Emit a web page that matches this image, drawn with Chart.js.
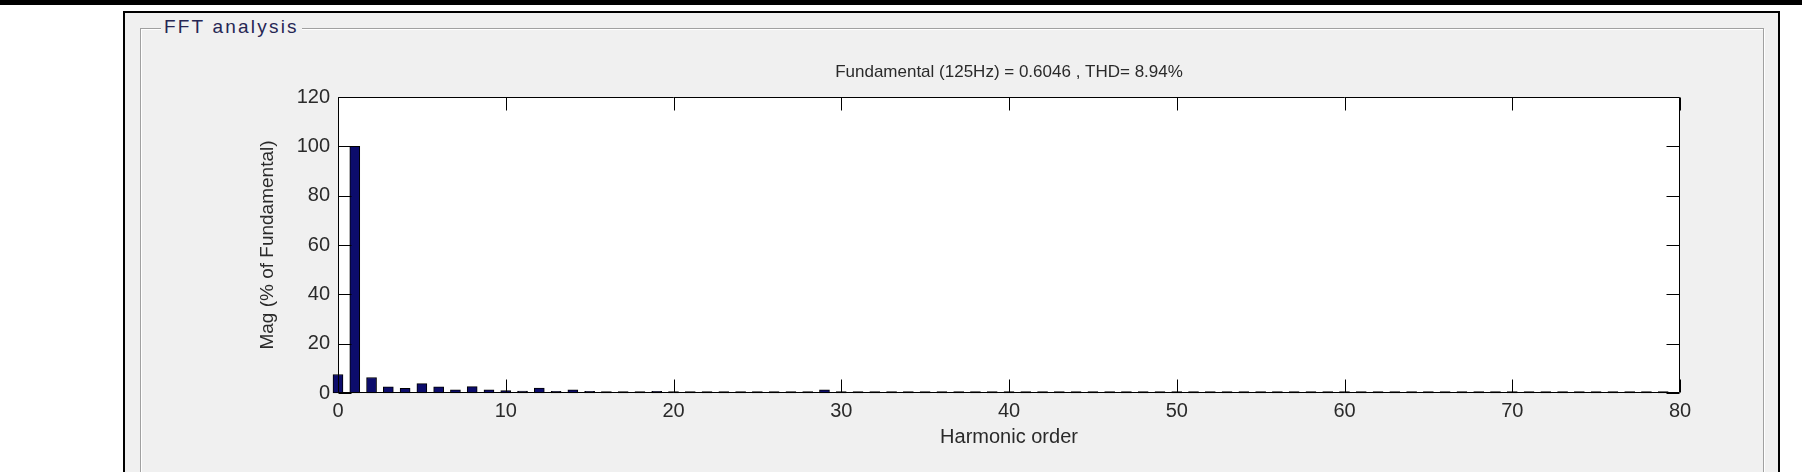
<!DOCTYPE html>
<html>
<head>
<meta charset="utf-8">
<title>FFT analysis</title>
<script src="https://cdn.jsdelivr.net/npm/chart.js@4.4.1/dist/chart.umd.min.js"></script>
<style>
  html, body { margin: 0; padding: 0; background: #fff; }
  body { width: 1802px; height: 472px; position: relative; overflow: hidden; font-family: 'Liberation Sans', Arial, sans-serif; }
  .band { position: absolute; left: 0; top: 0; width: 1802px; height: 5px; background: #000; }
  .frame { position: absolute; left: 123px; top: 11px; width: 1653px; height: 500px; border: 2px solid #000; background: #f0f0f0; }
  .group { position: absolute; left: 140px; top: 28px; width: 1622px; height: 500px; border: 1px solid #a0a0a0; box-shadow: inset 1px 1px 0 #fff, 1px 1px 0 #fff; }
  .legend { position: absolute; left: 161px; top: 16px; padding: 0 3px; background: #f0f0f0; color: #262654; font-size: 19px; line-height: 22px; letter-spacing: 2.2px; }
  canvas { position: absolute; left: 0; top: 0; }
</style>
</head>
<body>
<div class="band"></div>
<div class="frame"></div>
<div class="group"></div>
<div class="legend">FFT analysis</div>
<canvas id="fftChart" width="1802" height="472"></canvas>

<script>
'use strict';

// harmonic magnitudes, % of fundamental, for orders 0..79
const harmonicMag = [
  7.5, 100, 6.3, 2.5, 1.9, 3.8, 2.5, 1.3, 2.6, 1.3,
  1.0, 0.8, 2.0, 0.7, 1.3, 0.7, 0.6, 0.6, 0.6, 0.7,
  0.6, 0.6, 0.6, 0.6, 0.6, 0.6, 0.6, 0.6, 0.6, 1.3,
  0.6, 0.6, 0.6, 0.6, 0.6, 0.6, 0.6, 0.6, 0.6, 0.6,
  0.6, 0.6, 0.6, 0.6, 0.6, 0.6, 0.6, 0.6, 0.6, 0.6,
  0.6, 0.6, 0.6, 0.6, 0.6, 0.6, 0.6, 0.6, 0.6, 0.6,
  0.6, 0.6, 0.6, 0.6, 0.6, 0.6, 0.6, 0.6, 0.6, 0.6,
  0.6, 0.6, 0.6, 0.6, 0.6, 0.6, 0.6, 0.6, 0.6, 0.6
];
const xTickValues = [0, 10, 20, 30, 40, 50, 60, 70, 80];
const yTickValues = [0, 20, 40, 60, 80, 100, 120];

const TITLE_TEXT = 'Fundamental (125Hz) = 0.6046 , THD= 8.94%';
const TEXT_COLOR = '#2a2a2a';
const BAR_FILL = '#0c0c6c';
const TICK_LEN = 13;

Chart.defaults.font.family = "'Liberation Sans', Arial, sans-serif";
Chart.defaults.animation = false;

// matlab-style axes: white box, black frame, ticks pointing inward on all four sides
const matlabAxes = {
  id: 'matlabAxes',
  beforeDatasetsDraw(chart) {
    const { ctx, chartArea: a } = chart;
    ctx.save();
    ctx.fillStyle = '#fff';
    ctx.fillRect(a.left, a.top, a.right - a.left, a.bottom - a.top);
    ctx.restore();
  },
  afterDatasetsDraw(chart) {
    const { ctx, chartArea: a, scales: { x, y } } = chart;
    const L = Math.round(a.left) + 0.5;
    const R = Math.round(a.right) - 0.5;
    const T = Math.round(a.top) + 0.5;
    const B = Math.round(a.bottom) - 0.5;
    ctx.save();
    ctx.strokeStyle = '#000';
    ctx.lineWidth = 1;
    ctx.beginPath();
    ctx.rect(L, T, R - L, B - T);
    xTickValues.forEach(v => {
      const px = Math.round(x.getPixelForValue(v)) + 0.5;
      ctx.moveTo(px, B); ctx.lineTo(px, B - TICK_LEN);
      ctx.moveTo(px, T); ctx.lineTo(px, T + TICK_LEN);
    });
    yTickValues.forEach(v => {
      const py = Math.round(y.getPixelForValue(v)) + 0.5;
      ctx.moveTo(L, py); ctx.lineTo(L + TICK_LEN, py);
      ctx.moveTo(R, py); ctx.lineTo(R - TICK_LEN, py);
    });
    ctx.stroke();
    ctx.restore();
  }
};

new Chart(document.getElementById('fftChart').getContext('2d'), {
  type: 'bar',
  data: {
    datasets: [{
      label: 'Mag',
      data: harmonicMag.map((m, i) => ({ x: i, y: m })),
      backgroundColor: BAR_FILL,
      borderColor: '#000',
      borderWidth: 1,
      borderSkipped: false,
      barThickness: 10,
      clip: false,
    }]
  },
  options: {
    responsive: false,
    devicePixelRatio: 1,
    layout: { padding: { top: 62, left: 255, right: 122, bottom: 23 } },
    plugins: {
      legend: { display: false },
      tooltip: { enabled: false },
      title: {
        display: true,
        text: TITLE_TEXT,
        fullSize: false,
        color: TEXT_COLOR,
        font: { size: 17, weight: 'normal' },
        padding: { top: 0, bottom: 14.6 },
      },
    },
    scales: {
      x: {
        type: 'linear',
        min: 0,
        max: 80,
        offset: false,
        afterBuildTicks: (s) => { s.ticks = xTickValues.map(v => ({ value: v })); },
        afterFit: (s) => { s.height = 56; },
        ticks: { color: TEXT_COLOR, font: { size: 20 }, padding: 6, maxRotation: 0, autoSkip: false },
        grid: { display: false, drawTicks: false, offset: false },
        border: { display: false },
        title: { display: true, text: 'Harmonic order', color: TEXT_COLOR, font: { size: 20 }, padding: 0 },
      },
      y: {
        min: 0,
        max: 120,
        afterBuildTicks: (s) => { s.ticks = yTickValues.map(v => ({ value: v })); },
        afterFit: (s) => { s.width = 83; },
        ticks: { color: TEXT_COLOR, font: { size: 20 }, padding: 8, autoSkip: false },
        grid: { display: false, drawTicks: false },
        border: { display: false },
        title: { display: true, text: 'Mag (% of Fundamental)', color: TEXT_COLOR, font: { size: 19 }, padding: { top: 1 } },
      }
    }
  },
  plugins: [matlabAxes]
});
</script>
</body>
</html>
